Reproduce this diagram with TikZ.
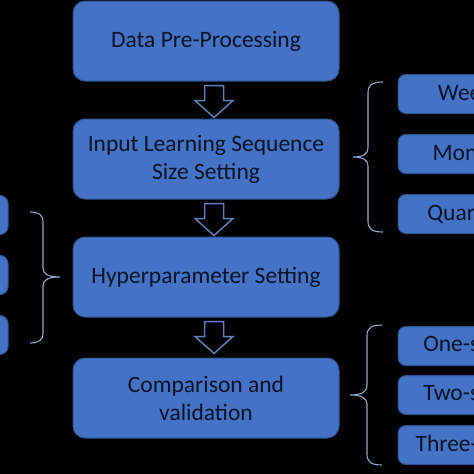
\documentclass[tikz,border=0pt]{standalone}
\usepackage{fontspec}
\setmainfont{Carlito}
\usepackage{tikz}
\usetikzlibrary{arrows.meta, positioning}

\definecolor{boxblue}{RGB}{68,114,196}
\definecolor{boxedge}{RGB}{47,82,143}
\definecolor{textnavy}{RGB}{12,20,38}
\definecolor{arrowedge}{RGB}{96,124,180}
\definecolor{bracegray}{RGB}{150,168,205}

\begin{document}
\begin{tikzpicture}[x=1pt, y=-1pt,
        stage/.style={draw=boxedge, line width=1pt, fill=boxblue, rounded corners=12pt,
            minimum width=266pt, minimum height=80pt, align=center, text=textnavy,
            font=\fontsize{23.5}{28}\selectfont},
        option/.style={draw=boxedge, line width=1pt, fill=boxblue, rounded corners=8pt,
            minimum height=39pt, text=textnavy, font=\fontsize{23.5}{28}\selectfont},
        hollow/.style={draw=arrowedge, line width=1.5pt, line join=miter},
        curly/.style={draw=bracegray, line width=1.1pt}]
            % 背景
            \useasboundingbox (0,0) rectangle (474,474);
            \clip (0,0) rectangle (474,474);
            \fill[black] (0,0) rectangle (474,474);

            % 主流程
            \node[stage] (prep)  at (206,41)  {Data Pre-Processing};
            \node[stage] (seq)   at (206,159) {Input Learning Sequence\\Size Setting};
            \node[stage] (hyper) at (206,277) {Hyperparameter Setting};
            \node[stage] (valid) at (206,398) {Comparison and\\validation};

            % 箭头
            \foreach \a in {prep,seq,hyper}
                \draw[hollow] ([shift={(-1.5,4)}]\a.south) -- ++(19,0) -- ++(0,15) -- ++(9.5,0)
                    -- ++(-19,17) -- ++(-19,-17) -- ++(9.5,0) -- cycle;

            % 左侧选项
            \node[option, minimum width=100pt] (left1) at (-42,215) {};
            \node[option, minimum width=100pt] (left2) at (-42,275) {};
            \node[option, minimum width=100pt] (left3) at (-42,335) {};

            % 右侧选项
            \node[option, minimum width=150pt] (week)    at (473,94)  {Weekly};
            \node[option, minimum width=150pt] (month)   at (473,154) {Monthly};
            \node[option, minimum width=150pt] (quarter) at (473,214) {Quarterly};
            \node[option, minimum width=138pt] (one)     at (467,346) {One-step};
            \node[option, minimum width=138pt] (two)     at (467,395) {Two-step};
            \node[option, minimum width=138pt] (three)   at (467,445) {Three-step};

            % 括号
            \draw[curly] (30,212) .. controls (39,212) and (43,215) .. (43,222) -- (43,268)
                .. controls (43,274) and (48,277) .. (60,277) .. controls (48,277) and (43,280) .. (43,286)
                -- (43,333) .. controls (43,340) and (39,343) .. (30,343);
            \draw[curly] (383,82) .. controls (372,82) and (368,85) .. (368,93) -- (368,148)
                .. controls (368,154) and (363,157) .. (353,157) .. controls (363,157) and (368,160) .. (368,166)
                -- (368,221) .. controls (368,229) and (372,232) .. (383,232);
            \draw[curly] (382,325) .. controls (371,325) and (367,328) .. (367,336) -- (367,386)
                .. controls (367,392) and (361,395) .. (350,395) .. controls (361,395) and (367,398) .. (367,404)
                -- (367,454) .. controls (367,462) and (371,465) .. (382,465);
        \end{tikzpicture}
\end{document}
